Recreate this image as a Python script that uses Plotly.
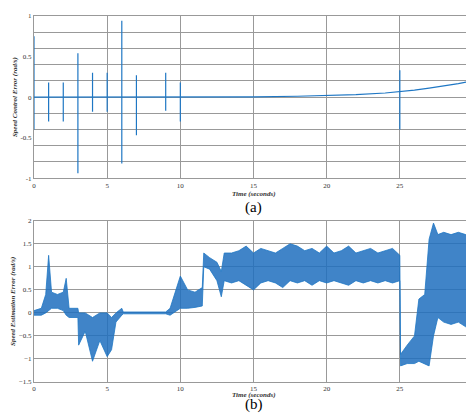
import plotly.graph_objects as go

# panel (a): speed control error
base_t = [0, 5, 10, 15, 18, 20, 22, 24, 25, 26, 27, 28, 29, 30]
base_v = [0, 0, 0, 0.003, 0.01, 0.018, 0.03, 0.05, 0.065, 0.085, 0.11, 0.135, 0.165, 0.2]
spike_t = [0, 1, 2, 3, 4, 5, 6, 7, 9, 10, 25]
spike_hi = [0.75, 0.18, 0.18, 0.54, 0.3, 0.3, 0.94, 0.27, 0.3, 0.18, 0.33]
spike_lo = [-0.4, -0.3, -0.3, -0.94, -0.18, -0.18, -0.82, -0.47, -0.17, -0.3, -0.4]

# panel (b): speed estimation error envelope
est_t = [0, 0.5, 0.8, 1.0, 1.2, 1.6, 2.0, 2.2, 2.4, 3.0, 3.05, 3.5, 4.0, 4.5, 5.0, 5.3, 5.6, 6.0, 6.1,
         9.0, 9.3, 10.0, 10.5, 11.0, 11.5, 11.6, 12.0, 12.5, 12.8, 13.0, 13.5, 14.0, 14.5, 15.0, 15.5,
         16.0, 16.5, 17.0, 17.5, 18.0, 18.5, 19.0, 19.5, 20.0, 20.5, 21.0, 21.5, 22.0, 22.5, 23.0, 23.5,
         24.0, 24.5, 25.0, 25.05, 25.5, 26.0, 26.3, 26.7, 27.0, 27.3, 27.6, 28.0, 28.5, 29.0, 29.5, 30.0]
est_hi = [0.05, 0.1, 0.4, 1.25, 0.45, 0.4, 0.45, 0.75, 0.1, 0.1, 0.0, 0.0, -0.1, 0.0, 0.0, -0.1, 0.0, 0.1, 0.02,
          0.02, 0.1, 0.8, 0.5, 0.45, 0.55, 1.3, 1.2, 1.1, 0.9, 1.3, 1.3, 1.35, 1.45, 1.3, 1.4,
          1.35, 1.3, 1.4, 1.5, 1.45, 1.35, 1.4, 1.3, 1.45, 1.3, 1.35, 1.45, 1.3, 1.35, 1.4, 1.3,
          1.35, 1.4, 1.25, -0.9, -0.7, -0.5, 0.3, 0.4, 1.6, 1.95, 1.7, 1.75, 1.7, 1.75, 1.7, 1.7]
est_lo = [-0.05, -0.05, 0.0, 0.05, 0.1, 0.1, 0.05, -0.05, -0.1, -0.1, -0.7, -0.4, -1.05, -0.6, -0.95, -0.8, -0.2, -0.05, -0.02,
          -0.02, -0.05, 0.1, 0.1, 0.12, 0.15, 1.0, 0.95, 0.7, 0.35, 0.7, 0.65, 0.7, 0.6, 0.5, 0.65,
          0.7, 0.65, 0.55, 0.7, 0.65, 0.7, 0.6, 0.7, 0.65, 0.7, 0.65, 0.6, 0.7, 0.65, 0.7, 0.65,
          0.7, 0.65, 0.7, -1.15, -1.1, -1.1, -1.05, -1.1, -1.15, -0.5, -0.1, -0.2, -0.25, -0.2, -0.3, -0.2]

blue = "#1f77c4"
serif = "Liberation Serif"
small = dict(family=serif, size=7, color="#333")

# build spike polyline from arrays
sx, sy = [], []
for t, hi, lo in zip(spike_t, spike_hi, spike_lo):
    sx += [t, t, t, None]
    sy += [hi, lo, hi, None]

fig = go.Figure()
fig.add_trace(go.Scatter(x=base_t, y=base_v, mode="lines", line=dict(color=blue, width=1.2),
                         xaxis="x", yaxis="y"))
fig.add_trace(go.Scatter(x=sx, y=sy, mode="lines", line=dict(color=blue, width=1.2),
                         xaxis="x", yaxis="y"))
fig.add_trace(go.Scatter(x=est_t, y=est_lo, mode="lines", line=dict(color=blue, width=0.8),
                         xaxis="x2", yaxis="y2"))
fig.add_trace(go.Scatter(x=est_t, y=est_hi, mode="lines", line=dict(color=blue, width=0.8),
                         fill="tonexty", fillcolor="rgba(31,110,190,0.85)", xaxis="x2", yaxis="y2"))

ax = dict(range=[0, 30], tickvals=[0, 5, 10, 15, 20, 25, 30], showgrid=True, gridcolor="#999",
          zeroline=False, showline=True, linecolor="#999", mirror=True, ticks="", tickfont=small)
fig.update_layout(
    width=474, height=413, showlegend=False, plot_bgcolor="white", paper_bgcolor="white",
    margin=dict(l=26, r=9, t=4, b=39),
    xaxis=dict(ax, domain=[0, 1], anchor="y"),
    xaxis2=dict(ax, domain=[0, 1], anchor="y2"),
    yaxis=dict(domain=[0.557, 1], range=[-1, 1], tickvals=[-1, -0.5, 0, 0.5, 1],
               ticktext=["-1", "-0.5", "0", "0.5", "1"], showgrid=False, zeroline=False,
               showline=True, linecolor="#999", mirror=True,
               minor=dict(tick0=0, dtick=0.2, showgrid=True, gridcolor="#999"),
               tickfont=small,
               title=dict(text="<i><b>Speed Control Error (rad/s)</b></i>", font=small, standoff=2)),
    yaxis2=dict(domain=[0, 0.4405], range=[-1.5, 2], dtick=0.5, showgrid=True, gridcolor="#999",
                zeroline=False, showline=True, linecolor="#999", mirror=True, tickfont=small,
                title=dict(text="<i><b>Speed Estimation Error (rad/s)</b></i>", font=small, standoff=2)),
)
for yy in [0.513, -0.052]:
    fig.add_annotation(text="<i><b>Time (seconds)</b></i>", x=0.5, y=yy, xref="paper", yref="paper",
                       showarrow=False, font=small)
for txt, yy in [("(a)", 0.478), ("(b)", -0.09)]:
    fig.add_annotation(text=txt, x=0.5, y=yy, xref="paper", yref="paper", showarrow=False,
                       font=dict(family=serif, size=15, color="black"))

fig.write_html("out.html")
